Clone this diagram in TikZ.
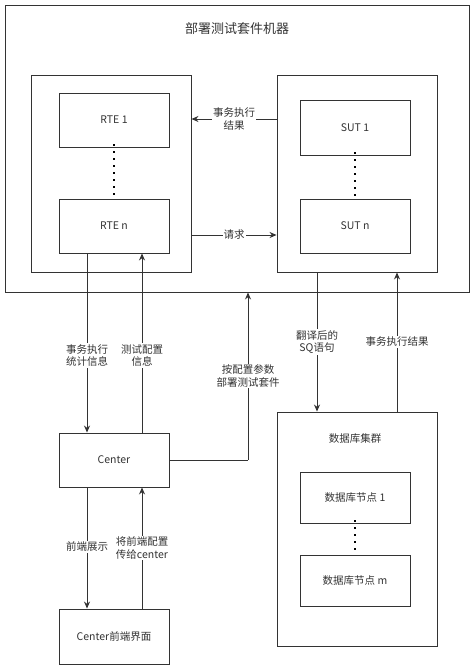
\documentclass[tikz,border=0pt]{standalone}
\usepackage{fontspec}
\setmainfont{Noto Sans CJK SC}
\usetikzlibrary{arrows.meta}
\begin{document}
\begin{tikzpicture}[x=1pt,y=-1pt,
  box/.style={draw=black!80,line width=0.9pt,rectangle,inner sep=0pt},
  lbl/.style={fill=white,inner sep=1pt,font=\fontsize{10.5}{12.5}\selectfont,align=center,text=black!80},
  txt/.style={font=\fontsize{10.5}{12.5}\selectfont,text=black!80},
  arr/.style={draw=black!80,line width=0.9pt,-{Stealth[length=7pt,width=6pt]}},
  ln/.style={draw=black!80,line width=0.9pt},
  dots/.style={draw=black,line width=1.5pt,dash pattern=on 1.5pt off 5.5pt}]
\useasboundingbox (0,0) rectangle (474,669);
% outer machine
\node[box,minimum width=464pt,minimum height=287pt] (outer) at (237,148.5) {};
\node[txt,font=\fontsize{13}{15}\selectfont] (title) at (237,29) {部署测试套件机器};
% RTE container
\node[box,minimum width=160pt,minimum height=197pt] (rtec) at (111,173.5) {};
\node[box,minimum width=110pt,minimum height=54pt,txt] (rte1) at (114,120) {RTE 1};
\node[box,minimum width=110pt,minimum height=54pt,txt] (rten) at (114,226) {RTE n};
\draw[dots] ([yshift=3pt]rte1.south) -- (rten.north);
% SUT container
\node[box,minimum width=160pt,minimum height=197pt] (sutc) at (357,173.5) {};
\node[box,minimum width=110pt,minimum height=55pt,txt] (sut1) at (355,127.5) {SUT 1};
\node[box,minimum width=110pt,minimum height=54pt,txt] (sutn) at (355,226) {SUT n};
\draw[dots] ([yshift=3pt]sut1.south) -- (sutn.north);
% arrows between containers
\draw[arr] (sutc.west |- 0,119) -- node[lbl] {事务执行\\结果} (rtec.east |- 0,119);
\draw[arr] (rtec.east |- 0,235) -- node[lbl] {请求} (sutc.west |- 0,235);
% Center
\node[box,minimum width=110pt,minimum height=54pt,txt] (center) at (114,460) {Center};
\node[box,minimum width=110pt,minimum height=55pt,txt] (front) at (114,636.5) {Center前端界面};
\coordinate (c1) at (87,0);
\coordinate (c2) at (142,0);
\draw[arr] (rten.south -| c1) -- node[lbl,pos=0.57] {事务执行\\统计信息} (center.north -| c1);
\draw[arr] (center.north -| c2) -- node[lbl,pos=0.43] {测试配置\\信息} (rten.south -| c2);
\coordinate (dep) at (248,460);
\draw[ln] (center.east) -- (dep);
\draw[arr] (dep) -- node[lbl,pos=0.5] {按配置参数\\部署测试套件} (outer.south -| dep);
\draw[arr] (center.south -| c1) -- node[lbl,pos=0.49] {前端展示} (front.north -| c1);
\draw[arr] (front.north -| c2) -- node[lbl,pos=0.5] {将前端配置\\传给center} (center.south -| c2);
% DB cluster
\node[box,minimum width=160pt,minimum height=234pt] (db) at (357,529) {};
\node[txt] (dbtitle) at (355,439) {数据库集群};
\node[box,minimum width=110pt,minimum height=51pt,txt] (db1) at (355,497.5) {数据库节点 1};
\node[box,minimum width=110pt,minimum height=51pt,txt] (dbm) at (355,580.5) {数据库节点 m};
\draw[dots] ([yshift=3pt]db1.south) -- (dbm.north);
\coordinate (s1) at (317,0);
\coordinate (s2) at (397,0);
\draw[arr] (sutc.south -| s1) -- node[lbl,pos=0.5] {翻译后的\\SQ语句} (db.north -| s1);
\draw[arr] (db.north -| s2) -- node[lbl,pos=0.5] {事务执行结果} (sutc.south -| s2);
\end{tikzpicture}
\end{document}
